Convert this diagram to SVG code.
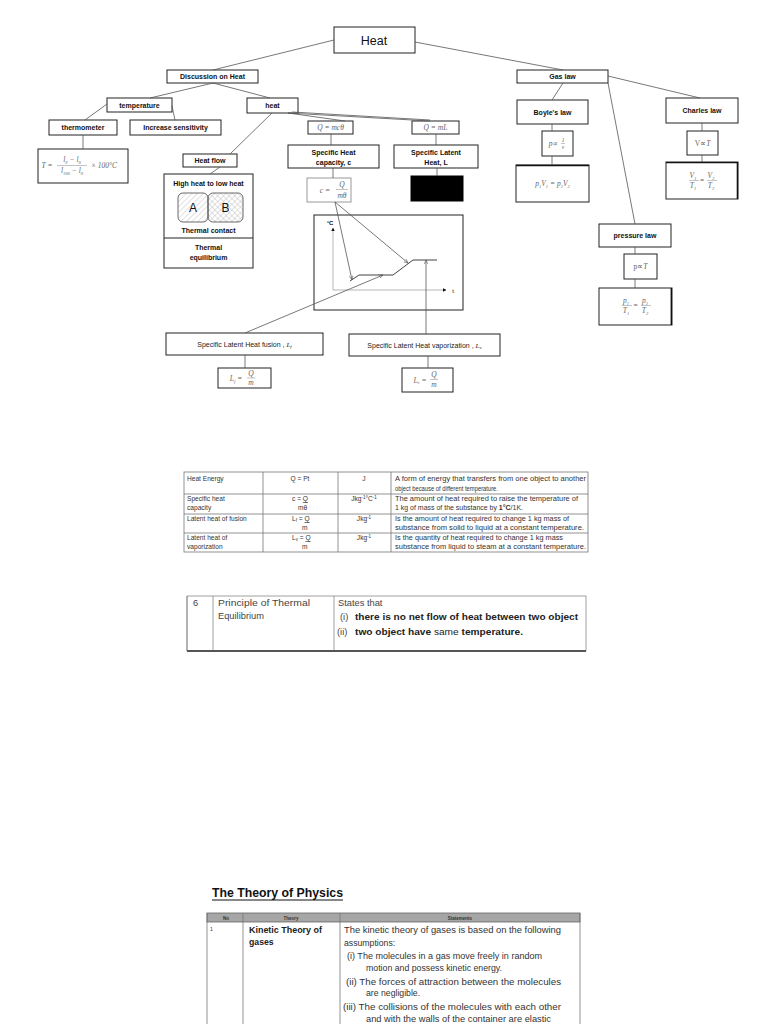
<svg xmlns="http://www.w3.org/2000/svg" width="768" height="1024" viewBox="0 0 768 1024">
<style>
.b{fill:#fff;stroke:#222;stroke-width:1}
.g{fill:#fff;stroke:#999;stroke-width:1}
.t{font-family:"Liberation Sans",Arial,sans-serif;font-weight:bold;font-size:7px;text-anchor:middle;fill:#111}
.r{font-family:"Liberation Sans",Arial,sans-serif;font-size:7px;text-anchor:middle;fill:#222}
.m{font-family:"Liberation Serif","Times New Roman",serif;font-style:italic;font-size:7.5px;text-anchor:middle;fill:#666}
.ms{font-family:"Liberation Serif","Times New Roman",serif;font-style:italic;font-size:5.5px;text-anchor:middle;fill:#666}
.fl{stroke:#888;stroke-width:0.5}
.c{stroke:#555;stroke-width:0.8;fill:none}
.tb{font-family:"Liberation Sans",Arial,sans-serif;font-size:6.6px;fill:#333}
.tc{font-family:"Liberation Sans",Arial,sans-serif;font-size:6.6px;fill:#333;text-anchor:middle}
.tl{stroke:#777;stroke-width:0.8}
.p{font-family:"Liberation Sans",Arial,sans-serif;font-size:9.3px;fill:#444}
.pb{font-family:"Liberation Sans",Arial,sans-serif;font-size:9.3px;fill:#222;font-weight:bold}
.k{font-family:"Liberation Sans",Arial,sans-serif;font-size:8.7px;fill:#333}
</style>
<defs>
<marker id="ar" viewBox="0 0 10 10" refX="9" refY="5" markerWidth="6" markerHeight="6" orient="auto"><path d="M0,1 L9,5 L0,9" fill="none" stroke="#555" stroke-width="1.2"/></marker>
<marker id="ax" viewBox="0 0 10 10" refX="9" refY="5" markerWidth="5" markerHeight="5" orient="auto"><path d="M0,0 L10,5 L0,10 z" fill="#111"/></marker>
<pattern id="hA" width="4" height="4" patternUnits="userSpaceOnUse" patternTransform="rotate(45)"><line x1="0" y1="0" x2="0" y2="4" stroke="#999" stroke-width="0.6"/></pattern>
<pattern id="hB" width="4" height="4" patternUnits="userSpaceOnUse" patternTransform="rotate(45)"><path d="M0,0 V4 M0,0 H4" stroke="#999" stroke-width="0.6"/></pattern>
</defs>
<rect width="768" height="1024" fill="#fff"/>

<g id="n-heat"><rect class="b" x="334" y="27" width="81" height="26"/><text x="374" y="45" font-family="Liberation Sans,Arial,sans-serif" font-size="12.5" text-anchor="middle" fill="#111">Heat</text></g>
<g id="n-discussion"><rect class="b" x="167" y="70" width="91" height="13"/><text class="t" x="212.5" y="79.3">Discussion on Heat</text></g>
<g id="n-gaslaw"><rect class="b" x="517" y="70" width="91" height="13"/><text class="t" x="562.5" y="79.3">Gas law</text></g>
<g id="n-temperature"><rect class="b" x="107" y="98" width="65" height="14"/><text class="t" x="139.5" y="107.8">temperature</text></g>
<g id="n-heatsub"><rect class="b" x="247" y="98" width="51" height="15"/><text class="t" x="272.5" y="108.3">heat</text></g>
<g id="n-thermometer"><rect class="b" x="49" y="120" width="68" height="15"/><text class="t" x="83" y="130.3">thermometer</text></g>
<g id="n-sensitivity"><rect class="b" x="130" y="120" width="91" height="15"/><text class="t" x="175.5" y="130.3">Increase sensitivity</text></g>
<g id="n-formulaT"><rect class="b" x="38" y="149" width="90" height="34"/>
<text class="m" x="47" y="168">T =</text>
<text class="m" x="72" y="162">l<tspan font-size="4.5" dy="1.5">θ</tspan><tspan dy="-1.5"> − l</tspan><tspan font-size="4.5" dy="1.5">0</tspan></text>
<line class="fl" x1="57" y1="165.5" x2="87" y2="165.5"/>
<text class="m" x="72" y="173">l<tspan font-size="4.5" dy="1.5">100</tspan><tspan dy="-1.5"> − l</tspan><tspan font-size="4.5" dy="1.5">0</tspan></text>
<text class="m" x="104" y="168" font-style="normal">× 100°C</text></g>
<g id="n-heatflow"><rect class="b" x="183" y="154" width="54" height="13"/><text class="t" x="210" y="163.3">Heat flow</text></g>
<g id="n-thermal"><rect class="b" x="164" y="174" width="89" height="94"/><line x1="164" y1="238" x2="253" y2="238" stroke="#222" stroke-width="1"/>
<text class="t" x="208.5" y="185.5" font-size="7.3">High heat to low heat</text>
<rect x="178" y="193" width="30" height="29" rx="5" fill="url(#hA)" stroke="#444" stroke-width="0.8"/>
<rect x="208" y="193" width="35" height="29" rx="5" fill="url(#hB)" stroke="#444" stroke-width="0.8"/>
<text x="193" y="212" font-family="Liberation Sans,Arial,sans-serif" font-size="12" text-anchor="middle" fill="#111">A</text>
<text x="225.5" y="212" font-family="Liberation Sans,Arial,sans-serif" font-size="12" text-anchor="middle" fill="#111">B</text>
<text class="t" x="208.5" y="233">Thermal contact</text>
<text class="t" x="208.5" y="249.5">Thermal</text>
<text class="t" x="208.5" y="259.5">equilibrium</text></g>
<g id="n-qmct"><rect class="b" x="308" y="121" width="45" height="13" stroke-width="1.3"/><text class="m" x="330.5" y="130">Q = mcθ</text></g>
<g id="n-qml"><rect class="b" x="412" y="121" width="47" height="13" stroke-width="1.3"/><text class="m" x="435.5" y="130">Q = mL</text></g>
<g id="n-shc"><rect class="b" x="288" y="145" width="91" height="23"/><text class="t" x="333.5" y="154.5">Specific Heat</text><text class="t" x="333.5" y="164.5">capacity, c</text></g>
<g id="n-slh"><rect class="b" x="394" y="145" width="84" height="23"/><text class="t" x="436" y="154.5">Specific Latent</text><text class="t" x="436" y="164.5">Heat, L</text></g>
<g id="n-black"><rect x="411" y="176" width="52" height="25" fill="#000" stroke="#000"/></g>
<g id="n-cformula"><rect class="g" x="307" y="178" width="44" height="24"/>
<text class="m" x="325" y="193">c =</text><text class="m" x="342" y="187">Q</text><line class="fl" x1="336" y1="189.5" x2="348" y2="189.5"/><text class="m" x="342" y="197.5">mθ</text></g>
<g id="n-boyle"><rect class="b" x="517" y="100" width="71" height="24"/><text class="t" x="552.5" y="114.5">Boyle's law</text></g>
<g id="n-boyle-prop"><rect class="b" x="542" y="131" width="31" height="25"/><text class="m" x="553" y="146" font-style="normal" font-size="6.5">p∝</text><text class="ms" x="563" y="142">1</text><line class="fl" x1="561" y1="143.5" x2="565" y2="143.5"/><text class="ms" x="563" y="148.5">v</text></g>
<g id="n-boyle-eq"><rect class="b" x="516" y="165" width="73" height="37"/><line x1="516" y1="165.5" x2="589" y2="165.5" stroke="#111" stroke-width="1.6"/><text class="m" x="552.5" y="186">p<tspan font-size="4.5" dy="1.5">1</tspan><tspan dy="-1.5">V</tspan><tspan font-size="4.5" dy="1.5">1</tspan><tspan dy="-1.5"> = p</tspan><tspan font-size="4.5" dy="1.5">2</tspan><tspan dy="-1.5">V</tspan><tspan font-size="4.5" dy="1.5">2</tspan></text></g>
<g id="n-charles"><rect class="b" x="666" y="98" width="72" height="25"/><text class="t" x="702" y="113">Charles law</text></g>
<g id="n-charles-prop"><rect class="b" x="687" y="131" width="31" height="24"/><text class="m" x="702.5" y="145.5"><tspan font-style="normal">V∝</tspan>T</text></g>
<g id="n-charles-eq"><rect class="b" x="666" y="162" width="72" height="37"/><line x1="666" y1="162.6" x2="738" y2="162.6" stroke="#111" stroke-width="1.4"/><line x1="737.4" y1="162" x2="737.4" y2="199" stroke="#111" stroke-width="1.4"/>
<text class="m" x="693" y="178">V<tspan font-size="4.5" dy="1.5">1</tspan></text><line class="fl" x1="689" y1="180.5" x2="699" y2="180.5"/><text class="m" x="693" y="188">T<tspan font-size="4.5" dy="1.5">1</tspan></text>
<text class="m" x="702" y="183">=</text>
<text class="m" x="711" y="178">V<tspan font-size="4.5" dy="1.5">2</tspan></text><line class="fl" x1="707" y1="180.5" x2="717" y2="180.5"/><text class="m" x="711" y="188">T<tspan font-size="4.5" dy="1.5">2</tspan></text></g>
<g id="n-pressure"><rect class="b" x="599" y="224" width="72" height="23"/><text class="t" x="635" y="238">pressure law</text></g>
<g id="n-pressure-prop"><rect class="b" x="624" y="254" width="33" height="25"/><text class="m" x="640.5" y="268.5"><tspan font-style="normal">p∝</tspan>T</text></g>
<g id="n-pressure-eq"><rect class="b" x="599" y="288" width="73" height="37"/><line x1="671.3" y1="288" x2="671.3" y2="325" stroke="#111" stroke-width="1.4"/>
<text class="m" x="626" y="303">p<tspan font-size="4.5" dy="1.5">1</tspan></text><line class="fl" x1="622" y1="305.5" x2="632" y2="305.5"/><text class="m" x="626" y="313">T<tspan font-size="4.5" dy="1.5">1</tspan></text>
<text class="m" x="635.5" y="308">=</text>
<text class="m" x="645" y="303">p<tspan font-size="4.5" dy="1.5">2</tspan></text><line class="fl" x1="641" y1="305.5" x2="651" y2="305.5"/><text class="m" x="645" y="313">T<tspan font-size="4.5" dy="1.5">2</tspan></text></g>

<g id="n-graph"><rect class="b" x="314" y="215" width="149" height="95"/>
<line x1="333" y1="290" x2="333" y2="228" stroke="#999" stroke-width="0.7" marker-end="url(#ax)"/>
<line x1="333" y1="290" x2="446" y2="290" stroke="#999" stroke-width="0.7" marker-end="url(#ax)"/>
<text x="330" y="225" font-family="Liberation Sans,Arial,sans-serif" font-size="6" font-weight="bold" text-anchor="middle" fill="#111">°C</text>
<text x="453" y="293" font-family="Liberation Sans,Arial,sans-serif" font-size="6" text-anchor="middle" fill="#111">t</text>
<polyline points="350,281 359,275 393,275 413,260 437,260" fill="none" stroke="#111" stroke-width="0.8"/></g>
<g id="n-fusion"><rect class="b" x="166" y="333" width="157" height="22"/><text class="r" x="244.5" y="346.5">Specific Latent Heat fusion , <tspan font-family="Liberation Serif,serif" font-style="italic">L<tspan font-size="5" dy="1.5">f</tspan></tspan></text></g>
<g id="n-lf"><rect class="b" x="218" y="368" width="53" height="20"/><text class="m" x="236" y="381">L<tspan font-size="4.5" dy="1.5">f</tspan><tspan dy="-1.5"> =</tspan></text><text class="m" x="251" y="376">Q</text><line class="fl" x1="247" y1="378" x2="255" y2="378"/><text class="m" x="251" y="385">m</text></g>
<g id="n-vapor"><rect class="b" x="349" y="334" width="151" height="22"/><text class="r" x="424.5" y="347.5">Specific Latent Heat vaporization , <tspan font-family="Liberation Serif,serif" font-style="italic">L<tspan font-size="5" dy="1.5">v</tspan></tspan></text></g>
<g id="n-lw"><rect class="b" x="402" y="368" width="51" height="24"/><text class="m" x="420" y="382.5">L<tspan font-size="4.5" dy="1.5">v</tspan><tspan dy="-1.5"> =</tspan></text><text class="m" x="434" y="377">Q</text><line class="fl" x1="430" y1="379.5" x2="438" y2="379.5"/><text class="m" x="434" y="387">m</text></g>

<g id="connectors">
<line class="c" x1="334" y1="40" x2="213" y2="70"/>
<line class="c" x1="415" y1="42" x2="563" y2="70"/>
<line class="c" x1="563" y1="83" x2="552" y2="100"/>
<line class="c" x1="608" y1="76" x2="700" y2="98"/>
<line class="c" x1="608" y1="83" x2="635" y2="224"/>
<line class="c" x1="552" y1="124" x2="552" y2="131" stroke="#aaa"/>
<line class="c" x1="552" y1="156" x2="552" y2="165" stroke="#aaa"/>
<line class="c" x1="702" y1="123" x2="702" y2="131"/>
<line class="c" x1="702" y1="155" x2="702" y2="162"/>
<line class="c" x1="635" y1="247" x2="635" y2="254"/>
<line class="c" x1="635" y1="279" x2="635" y2="288"/>
<line class="c" x1="213" y1="83" x2="150" y2="98"/>
<line class="c" x1="213" y1="83" x2="270" y2="98"/>
<line class="c" x1="107" y1="104" x2="85" y2="120"/>
<line class="c" x1="172" y1="106" x2="175" y2="120"/>
<line class="c" x1="83" y1="135" x2="83" y2="149"/>
<line class="c" x1="272" y1="113" x2="230" y2="154"/>
<line class="c" x1="220" y1="167" x2="210" y2="174"/>
<line class="c" x1="288" y1="113" x2="345" y2="121"/>
<line class="c" x1="288" y1="113" x2="430" y2="121"/>
<line class="c" x1="292" y1="112" x2="430" y2="120" stroke="#999"/>
<line class="c" x1="331" y1="134" x2="331" y2="145"/>
<line class="c" x1="436" y1="134" x2="436" y2="145"/>
<line class="c" x1="333" y1="168" x2="333" y2="178"/>
<line class="c" x1="437" y1="168" x2="437" y2="176"/>
<line class="c" x1="335" y1="202" x2="352" y2="280" marker-end="url(#ar)"/>
<line class="c" x1="335" y1="202" x2="408" y2="263" marker-end="url(#ar)"/>
<line class="c" x1="245" y1="333" x2="383" y2="275" marker-end="url(#ar)"/>
<line class="c" x1="426" y1="334" x2="426" y2="260" marker-end="url(#ar)"/>
<line class="c" x1="245" y1="355" x2="245" y2="368"/>
<line class="c" x1="428" y1="356" x2="428" y2="368"/>
</g>

<g id="table1">
<rect x="184" y="472" width="404" height="80" fill="none" stroke="#777" stroke-width="0.8"/>
<line class="tl" x1="263" y1="472" x2="263" y2="552"/><line class="tl" x1="338" y1="472" x2="338" y2="552"/><line class="tl" x1="391" y1="472" x2="391" y2="552"/>
<line class="tl" x1="184" y1="494" x2="588" y2="494"/><line class="tl" x1="184" y1="514" x2="588" y2="514"/><line class="tl" x1="184" y1="533" x2="588" y2="533"/>
<text class="tb" x="187" y="481">Heat  Energy</text>
<text class="tc" x="300" y="481">Q = Pt</text>
<text class="tc" x="364" y="481">J</text>
<text class="tb" x="395" y="481" textLength="191" lengthAdjust="spacingAndGlyphs">A form of energy that transfers from one object to another</text>
<text class="tb" x="395" y="491" textLength="103" lengthAdjust="spacingAndGlyphs">object because of different temperature.</text>
<text class="tb" x="187" y="501">Specific  heat</text>
<text class="tb" x="187" y="510">capacity</text>
<text class="tb" x="292" y="501">c =  <tspan text-decoration="underline">Q</tspan></text>
<text class="tb" x="298" y="510">mθ</text>
<text class="tc" x="364" y="501">Jkg<tspan font-size="4.5" dy="-2">-1</tspan><tspan dy="2">°C</tspan><tspan font-size="4.5" dy="-2">-1</tspan></text>
<text class="tb" x="395" y="501" textLength="183" lengthAdjust="spacingAndGlyphs">The amount of heat required to raise the temperature of</text>
<text class="tb" x="395" y="510" textLength="128" lengthAdjust="spacingAndGlyphs">1 kg of mass of the substance by <tspan font-weight="bold">1°C</tspan>/1K.</text>
<text class="tb" x="187" y="521">Latent heat of fusion</text>
<text class="tb" x="292" y="521">L<tspan font-size="4.5" dy="1">f</tspan><tspan dy="-1"> = </tspan><tspan text-decoration="underline">Q</tspan></text>
<text class="tb" x="302" y="530">m</text>
<text class="tc" x="364" y="521">Jkg<tspan font-size="4.5" dy="-2">-1</tspan></text>
<text class="tb" x="395" y="521" textLength="174" lengthAdjust="spacingAndGlyphs">Is the amount of heat  required to change 1 kg mass of</text>
<text class="tb" x="395" y="530" textLength="189" lengthAdjust="spacingAndGlyphs">substance from solid to liquid at a constant temperature.</text>
<text class="tb" x="187" y="540">Latent heat of</text>
<text class="tb" x="187" y="549">vaporization</text>
<text class="tb" x="292" y="540">L<tspan font-size="4.5" dy="1">v</tspan><tspan dy="-1"> = </tspan><tspan text-decoration="underline">Q</tspan></text>
<text class="tb" x="302" y="549">m</text>
<text class="tc" x="364" y="540">Jkg<tspan font-size="4.5" dy="-2">-1</tspan></text>
<text class="tb" x="395" y="540" textLength="168" lengthAdjust="spacingAndGlyphs">Is the quantity of heat  required to change 1 kg mass</text>
<text class="tb" x="395" y="549" textLength="191" lengthAdjust="spacingAndGlyphs">substance from liquid to steam at a constant temperature.</text>
</g>

<g id="table2">
<line x1="187" y1="596" x2="586" y2="596" stroke="#888" stroke-width="0.8"/>
<line x1="187" y1="596" x2="187" y2="651" stroke="#666" stroke-width="1"/>
<line x1="213" y1="596" x2="213" y2="651" stroke="#888" stroke-width="0.8"/>
<line x1="334" y1="596" x2="334" y2="651" stroke="#888" stroke-width="0.8"/>
<line x1="586" y1="596" x2="586" y2="651" stroke="#888" stroke-width="0.8"/>
<line x1="187" y1="651" x2="586" y2="651" stroke="#555" stroke-width="1.8"/>
<text class="p" x="193" y="606">6</text>
<text class="p" x="218" y="606" textLength="92" lengthAdjust="spacingAndGlyphs">Principle of Thermal</text>
<text class="p" x="218" y="619">Equilibrium</text>
<text class="p" x="338" y="606">States that</text>
<text class="p" x="340" y="620" fill="#777">(i)</text>
<text class="pb" x="355" y="620" textLength="223" lengthAdjust="spacingAndGlyphs">there is no net flow of heat between two object</text>
<text class="p" x="337" y="635" fill="#777">(ii)</text>
<text class="pb" x="355" y="635" textLength="168" lengthAdjust="spacingAndGlyphs">two object have <tspan font-weight="normal">same</tspan> temperature.</text>
</g>

<g id="theory">
<text x="212" y="897" font-family="Liberation Sans,Arial,sans-serif" font-size="13" font-weight="bold" fill="#111" textLength="131" lengthAdjust="spacingAndGlyphs">The Theory of Physics</text>
<line x1="212" y1="900" x2="343" y2="900" stroke="#111" stroke-width="1"/>
<rect x="207" y="913" width="373" height="9" fill="#a6a6a6" stroke="#666" stroke-width="0.8"/>
<line x1="207" y1="913" x2="207" y2="1024" stroke="#777" stroke-width="0.8"/>
<line x1="243" y1="913" x2="243" y2="1024" stroke="#777" stroke-width="0.8"/>
<line x1="340" y1="913" x2="340" y2="1024" stroke="#777" stroke-width="0.8"/>
<line x1="580" y1="913" x2="580" y2="1024" stroke="#777" stroke-width="0.8"/>
<text x="226" y="919.5" font-family="Liberation Sans,Arial,sans-serif" font-size="4.5" font-weight="bold" text-anchor="middle" fill="#333">No</text>
<text x="291" y="919.5" font-family="Liberation Sans,Arial,sans-serif" font-size="4.5" font-weight="bold" text-anchor="middle" fill="#333">Theory</text>
<text x="460" y="919.5" font-family="Liberation Sans,Arial,sans-serif" font-size="4.5" font-weight="bold" text-anchor="middle" fill="#333">Statements</text>
<text x="210" y="931" font-family="Liberation Sans,Arial,sans-serif" font-size="5" fill="#333">1</text>
<text x="249" y="933" font-family="Liberation Sans,Arial,sans-serif" font-size="8.7" font-weight="bold" fill="#222" textLength="73" lengthAdjust="spacingAndGlyphs">Kinetic Theory of</text>
<text x="249" y="945" font-family="Liberation Sans,Arial,sans-serif" font-size="8.7" font-weight="bold" fill="#222">gases</text>
<text class="k" x="344" y="933" textLength="217" lengthAdjust="spacingAndGlyphs">The kinetic theory of gases is based on the following</text>
<text class="k" x="344" y="946">assumptions:</text>
<text class="k" x="347" y="959" textLength="195" lengthAdjust="spacingAndGlyphs">(i)  The molecules in a gas move freely in random</text>
<text class="k" x="366" y="971" textLength="136" lengthAdjust="spacingAndGlyphs">motion and possess kinetic energy.</text>
<text class="k" x="346" y="985" textLength="215" lengthAdjust="spacingAndGlyphs">(ii) The forces of attraction between the molecules</text>
<text class="k" x="366" y="996">are negligible.</text>
<text class="k" x="343" y="1010" textLength="218" lengthAdjust="spacingAndGlyphs">(iii) The collisions of the molecules with each other</text>
<text class="k" x="366" y="1022" textLength="185" lengthAdjust="spacingAndGlyphs">and with the walls of the container are elastic</text>
</g>
</svg>
